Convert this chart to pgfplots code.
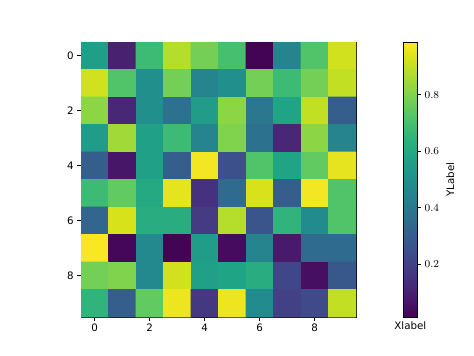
\documentclass[border=0pt]{standalone}
\usepackage{fontspec}
\setmainfont{DejaVu Sans}
\usepackage{pgfplots}
\usepackage{pgfplotstable}
\pgfplotsset{compat=1.18}
\pgfplotstableread{
x y c
0 0 0.56
1 0 0.10
2 0 0.68
3 0 0.88
4 0 0.78
5 0 0.70
6 0 0.02
7 0 0.45
8 0 0.72
9 0 0.92
0 1 0.92
1 1 0.72
2 1 0.50
3 1 0.78
4 1 0.45
5 1 0.50
6 1 0.78
7 1 0.68
8 1 0.78
9 1 0.90
0 2 0.82
1 2 0.12
2 2 0.50
3 2 0.38
4 2 0.55
5 2 0.82
6 2 0.40
7 2 0.58
8 2 0.90
9 2 0.30
0 3 0.55
1 3 0.85
2 3 0.57
3 3 0.68
4 3 0.45
5 3 0.80
6 3 0.38
7 3 0.12
8 3 0.82
9 3 0.45
0 4 0.30
1 4 0.07
2 4 0.57
3 4 0.30
4 4 0.97
5 4 0.25
6 4 0.72
7 4 0.58
8 4 0.75
9 4 0.95
0 5 0.68
1 5 0.75
2 5 0.60
3 5 0.95
4 5 0.15
5 5 0.35
6 5 0.93
7 5 0.30
8 5 0.97
9 5 0.72
0 6 0.33
1 6 0.93
2 6 0.62
3 6 0.62
4 6 0.18
5 6 0.88
6 6 0.27
7 6 0.65
8 6 0.48
9 6 0.72
0 7 0.98
1 7 0.03
2 7 0.47
3 7 0.02
4 7 0.55
5 7 0.04
6 7 0.45
7 7 0.08
8 7 0.35
9 7 0.35
0 8 0.78
1 8 0.80
2 8 0.47
3 8 0.92
4 8 0.57
5 8 0.58
6 8 0.62
7 8 0.22
8 8 0.05
9 8 0.28
0 9 0.65
1 9 0.30
2 9 0.75
3 9 0.96
4 9 0.17
5 9 0.96
6 9 0.48
7 9 0.20
8 9 0.23
9 9 0.90
}\heat
\begin{document}
\fontsize{7.7}{9}\selectfont
\begin{tikzpicture}[x=1pt,y=1pt]
\path[use as bounding box] (0,0) rectangle (355.5,266.25);
\begin{axis}[
  at={(60.75pt,28.5pt)}, anchor=south west,
  scale only axis, width=206.25pt, height=206.25pt,
  xmin=-0.5, xmax=9.5, ymin=-0.5, ymax=9.5, y dir=reverse,
  enlargelimits=false,
  xtick={0,2,4,6,8}, ytick={0,2,4,6,8},
  tick align=outside, tick pos=left, major tick length=2.7pt,
  axis line style={line width=0.6pt},
  every tick/.style={line width=0.6pt, black},
  /pgf/number format/assume math mode=true,
  ticklabel style={font=\fontsize{7.7}{9}\selectfont},
  colormap/viridis,
  point meta min=0.014, point meta max=0.986,
  colorbar,
  colorbar style={
    at={(parent axis.north east)}, anchor=north west, xshift=27pt,
    scale only axis, width=10.5pt, height=206.25pt,
    ytick={0.2,0.4,0.6,0.8},
    ytick pos=right, yticklabel pos=right,
    yticklabel style={/pgf/number format/fixed, /pgf/number format/precision=1, /pgf/number format/fixed zerofill, font=\fontsize{7.7}{9}\selectfont},
    tick align=outside, major tick length=2.7pt,
    axis line style={line width=0.6pt},
    ylabel={YLabel},
    xlabel={Xlabel},
    xlabel style={yshift=2pt},
    label style={font=\fontsize{7.7}{9}\selectfont},
  },
]
\addplot[matrix plot*, mesh/cols=10, point meta=explicit] table[x=x, y=y, meta=c] {\heat};
\end{axis}
\end{tikzpicture}
\end{document}
